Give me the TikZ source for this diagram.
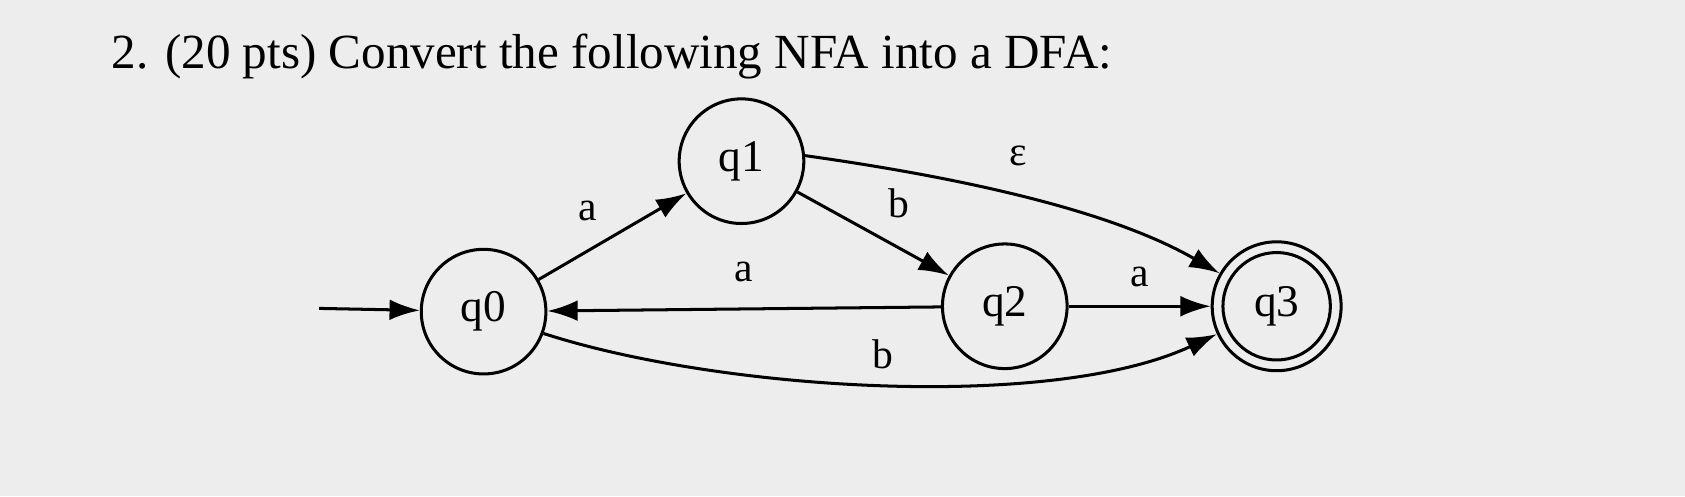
\documentclass[tikz,border=0pt]{standalone}
\usepackage{fontspec}
\setmainfont{Liberation Serif}
\usetikzlibrary{arrows.meta}
\begin{document}
\begin{tikzpicture}[x=0.02cm,y=-0.02cm,
  st/.style={circle,draw,line width=1.6pt,minimum size=2.32cm,inner sep=0pt,font=\fontsize{24}{28}\selectfont},
  ed/.style={line width=1.6pt,-{Latex[length=16pt,width=11pt]}},
  lb/.style={font=\fontsize{22}{26}\selectfont}]
\fill[gray!14] (0,0) rectangle (1568,462);
\useasboundingbox (0,0) rectangle (1568,462);
\node[anchor=base west,font=\fontsize{26}{30}\selectfont] (title) at (98,64) {2. (20 pts) Convert the following NFA into a DFA:};
\node[st] (q0) at (450,290) {q0};
\node[st] (q1) at (690,150) {q1};
\node[st] (q2) at (935,285) {q2};
\node[st,minimum size=2.0cm] (q3i) at (1188,285) {q3};
\node[st,minimum size=2.4cm] (q3) at (1188,285) {};
\coordinate (s) at (297,287);
\draw[ed] (s) -- (q0);
\draw[ed] (q0) -- node[lb,above left=4pt] {a} (q1);
\draw[ed] (q1) -- node[lb,above right=4pt] {b} (q2);
\draw[ed] (q2) -- node[lb,above=10pt] {a} (q0);
\draw[ed] (q2) -- node[lb,above=6pt] {a} (q3);
\draw[ed] (q1.5) to[out=-8,in=150,looseness=0.8] node[lb,above=12pt] {ε} (q3);
\draw[ed] (q0.-20) to[out=-18,in=205,looseness=0.7] node[lb,above=4pt,pos=0.5] {b} (q3);
\end{tikzpicture}
\end{document}
